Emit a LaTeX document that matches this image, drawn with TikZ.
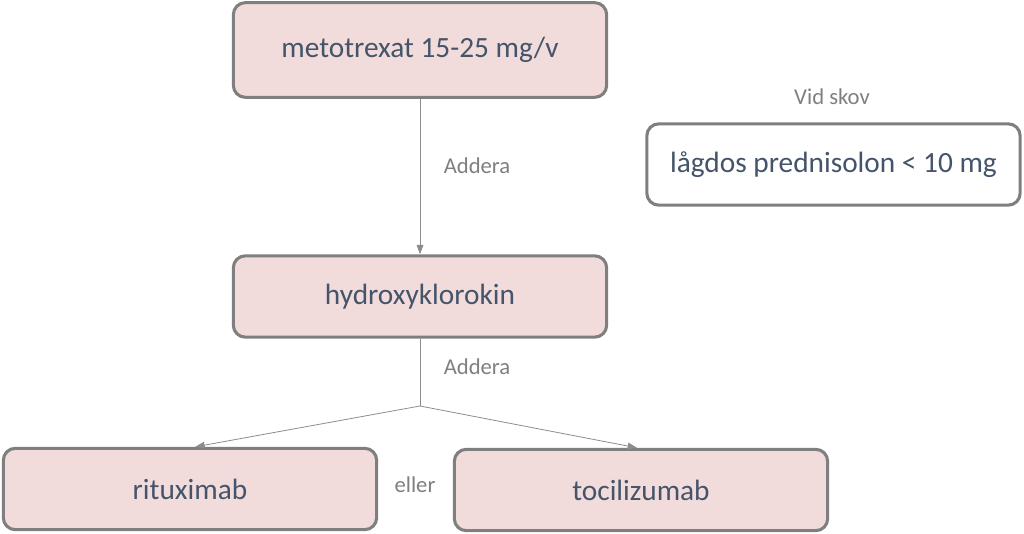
\documentclass[tikz,border=0pt]{standalone}
\usepackage{fontspec}
\setmainfont{Carlito}
\usepackage{xcolor}
\usetikzlibrary{arrows.meta, positioning, calc}

\definecolor{boxpink}{HTML}{F2DCDB}
\definecolor{boxgray}{HTML}{7F7F7F}
\definecolor{textblue}{HTML}{44546A}
\definecolor{linegray}{HTML}{8C8C8C}

\begin{document}
\begin{tikzpicture}[
    x=0.75pt, y=-0.75pt,
    drug/.style={draw=boxgray, line width=2.3pt, rounded corners=9pt, fill=boxpink,
      text=textblue, font=\fontsize{22}{26}\selectfont, minimum width=280pt, minimum height=61pt},
    note/.style={text=boxgray, font=\fontsize{17}{20}\selectfont},
    arr/.style={-{Triangle[length=7pt,width=5pt]}, linegray, line width=0.6pt},
    conn/.style={linegray, line width=0.6pt}
  ]
  \useasboundingbox (0,0) rectangle (1024,534);
  \node[drug, minimum height=71pt] (mtx) at (420,50) {metotrexat 15-25 mg/v};
  \node[drug] (hcq) at (420,296.5) {hydroxyklorokin};
  \node[drug] (rtx) at (190,489) {rituximab};
  \node[drug] (toc) at (641,490) {tocilizumab};
  \node[drug, fill=white] (pred) at (833.5,164.5) {lågdos prednisolon < 10 mg};
  \node[note] (skov) at (832,97) {Vid skov};
  \node[note] (add1) at (477,166) {Addera};
  \node[note] (add2) at (477,367) {Addera};
  \node[note] (eller) at (415,485) {eller};
  \coordinate (split) at (420,406);
  \draw[arr] (mtx) -- (hcq);
  \draw[conn] (hcq) -- (split);
  \draw[arr] (split) -- ([xshift=4pt]rtx.north);
  \draw[arr] (split) -- ([xshift=-3pt]toc.north);
\end{tikzpicture}
\end{document}
